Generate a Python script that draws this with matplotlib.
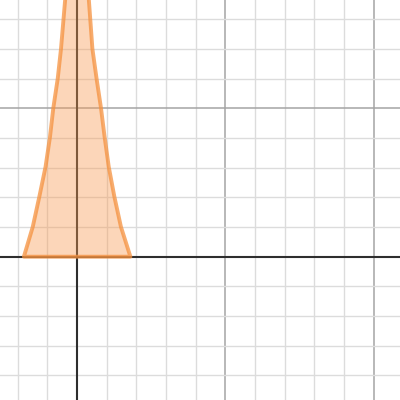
import numpy as np
import matplotlib
matplotlib.use('Agg')
import matplotlib.pyplot as plt
from matplotlib.ticker import MultipleLocator

# points (graph units, 1 unit = 1 minor grid cell)
y_levels = [9.3, 8.65, 7.0, 6.0, 5.0, 4.04, 3.03, 2.02, 1.01, 0.0]
x_left = [-0.35, -0.40, -0.54, -0.65, -0.80, -0.91, -1.06, -1.27, -1.49, -1.79]
x_right = [0.35, 0.40, 0.52, 0.66, 0.81, 0.93, 1.07, 1.26, 1.48, 1.80]

xlim = (-2.595, 10.886)
ylim = (-4.83, 8.652)

fig = plt.figure(figsize=(4, 4), dpi=100)
ax = fig.add_axes([0, 0, 1, 1])
ax.set_xlim(*xlim)
ax.set_ylim(*ylim)

ax.xaxis.set_major_locator(MultipleLocator(5))
ax.yaxis.set_major_locator(MultipleLocator(5))
ax.xaxis.set_minor_locator(MultipleLocator(1))
ax.yaxis.set_minor_locator(MultipleLocator(1))
ax.grid(which='minor', color='#dcdcdc', linewidth=1.0, zorder=0)
ax.grid(which='major', color='#a4a4a4', linewidth=1.1, zorder=0)
ax.set_axisbelow(True)
ax.tick_params(which='both', length=0, labelbottom=False, labelleft=False)
for s in ax.spines.values():
    s.set_visible(False)

ax.axhline(0, color='#2e2e2e', linewidth=1.5, zorder=1)
ax.axvline(0, color='#2e2e2e', linewidth=1.5, zorder=1)

# closed outline: left side going down, right side going up
xs = x_left + x_right[::-1]
ys = y_levels + y_levels[::-1]
ax.fill(xs, ys, color='#f89a50', alpha=0.4, linewidth=0, zorder=2)
ax.plot(xs + [xs[0]], ys + [ys[0]], color='#f5913e', alpha=0.75,
        linewidth=2.8, solid_joinstyle='round', zorder=3)

fig.savefig('out.png', dpi=100)
